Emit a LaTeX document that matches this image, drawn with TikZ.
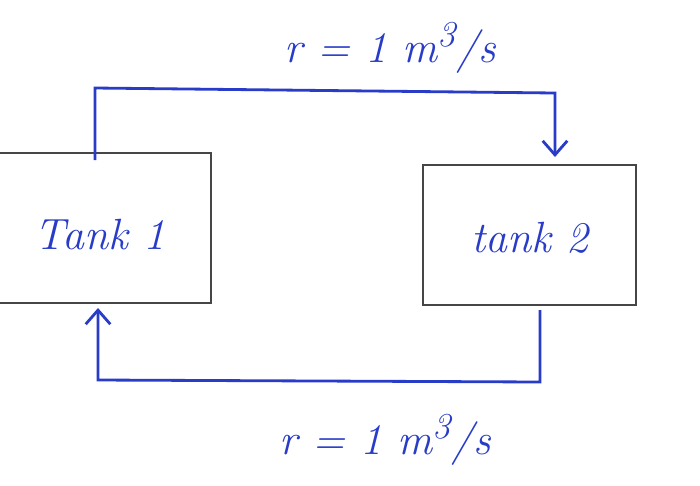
\documentclass[tikz,border=0pt]{standalone}
\usetikzlibrary{arrows.meta}
\definecolor{ink}{RGB}{40,60,200}
\definecolor{boxc}{RGB}{70,70,70}
\begin{document}
\begin{tikzpicture}[x=0.02cm,y=-0.02cm,
  tankbox/.style={draw=boxc,line width=0.8pt},
  flow/.style={draw=ink,line width=1.6pt},
  lbl/.style={text=ink,font=\Huge\itshape}]
\useasboundingbox (0,0) rectangle (700,485);
\fill[white] (0,0) rectangle (700,485);
\draw[tankbox] (-2,153) rectangle (211,303);
\draw[tankbox] (423,165) rectangle (636,305);
\node[lbl] (t1) at (100,235) {Tank 1};
\node[lbl] (t2) at (530,238) {tank 2};
\coordinate (a1) at (95,160);
\coordinate (a2) at (95,88);
\coordinate (a3) at (555,93);
\coordinate (a4) at (555,157);
\draw[flow,-{Straight Barb[length=8pt,width=14pt]}] (a1) -- (a2) -- (a3) -- (a4);
\coordinate (b1) at (540,310);
\coordinate (b2) at (540,382);
\coordinate (b3) at (98,380);
\coordinate (b4) at (98,308);
\draw[flow,-{Straight Barb[length=8pt,width=14pt]}] (b1) -- (b2) -- (b3) -- (b4);
\node[lbl] (r1) at (390,48) {r = 1 m\textsuperscript{3}/s};
\node[lbl] (r2) at (385,440) {r = 1 m\textsuperscript{3}/s};
\end{tikzpicture}
\end{document}
